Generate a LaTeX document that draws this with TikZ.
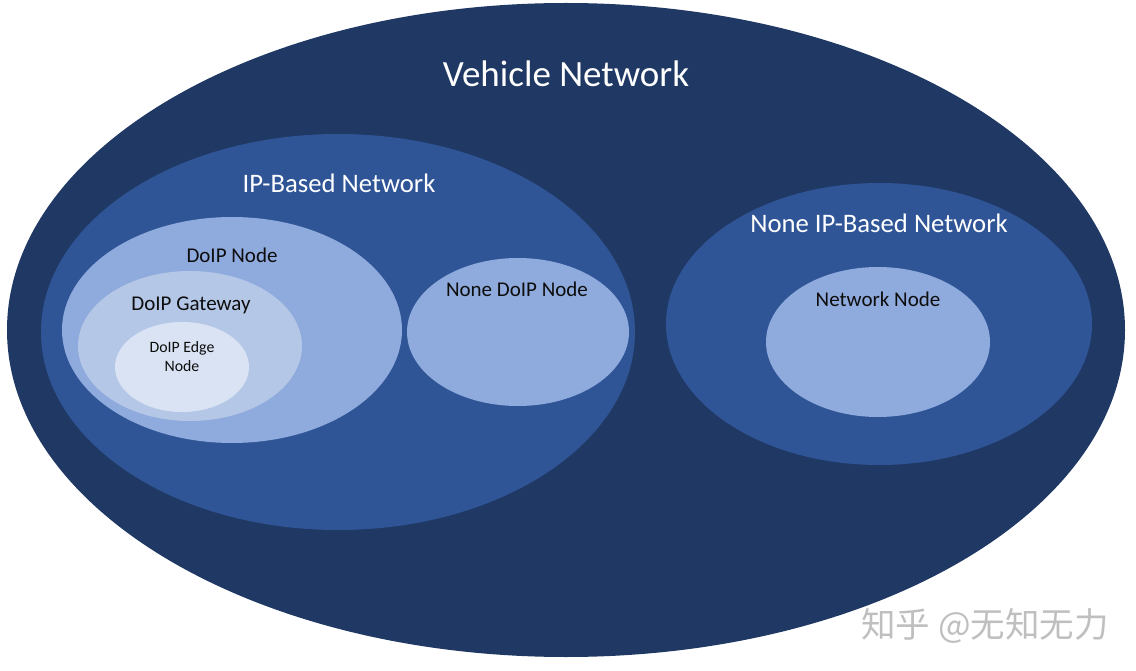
\documentclass[tikz,border=0pt]{standalone}
\usepackage{fontspec}
\setmainfont{Carlito}
\newfontfamily\cjk{Noto Sans CJK SC}
\definecolor{navy}{HTML}{203864}
\definecolor{ipblue}{HTML}{2F5597}
\definecolor{midblue}{HTML}{8FAADC}
\definecolor{paleblue}{HTML}{B4C7E7}
\definecolor{iceblue}{HTML}{DAE3F3}
\begin{document}
\begin{tikzpicture}[x=1pt,y=-1pt,
  titletext/.style={text=white,anchor=base,inner sep=0pt,font=\fontsize{37}{41}\selectfont},
  headtext/.style={text=white,anchor=base,inner sep=0pt,font=\fontsize{26.7}{31}\selectfont},
  nodetext/.style={text=black!95,anchor=base,inner sep=0pt,font=\fontsize{21}{25}\selectfont}]
\useasboundingbox (0,0) rectangle (1136,671);
% nested networks
\fill [navy] (566,330) ellipse (559pt and 327pt);
\fill [ipblue] (338,332) ellipse (297pt and 198pt);
\fill [ipblue] (879,324) ellipse (213pt and 141pt);
\fill [midblue] (232,330) ellipse (170pt and 113pt);
\fill [paleblue] (190,346) ellipse (112pt and 75pt);
\fill [iceblue] (182,367) ellipse (67pt and 45pt);
\fill [midblue] (518,332) ellipse (111pt and 74pt);
\fill [midblue] (878,342) ellipse (112pt and 75pt);
% texts
\node [titletext] (vehicle) at (566,87) {Vehicle Network};
\node [headtext] (ipnet) at (339,193) {IP-Based Network};
\node [headtext] (nonipnet) at (879,233) {None IP-Based Network};
\node [nodetext] (doipnode) at (232,263) {DoIP Node};
\node [nodetext] (gateway) at (191,311) {DoIP Gateway};
\node [nodetext,font=\fontsize{15.8}{19}\selectfont,align=center] (edgenode) at (182,371) {DoIP Edge\\Node};
\node [nodetext] (nonedoip) at (517,297) {None DoIP Node};
\node [nodetext] (netnode) at (878,307) {Network Node};
\node [anchor=base,inner sep=0pt,text=black!25,font=\cjk\fontsize{34.5}{38}\selectfont] (mark) at (985,637) {知乎 @无知无力};
\end{tikzpicture}
\end{document}
